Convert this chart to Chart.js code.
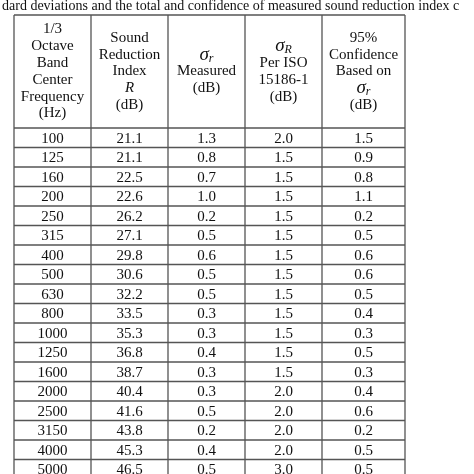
<!DOCTYPE html>
<html>
<head>
<meta charset="utf-8">
<script src="https://cdn.jsdelivr.net/npm/chart.js@4"></script>
<style>body{margin:0;background:#fff;}canvas{display:block;}</style>
</head>
<body>
<canvas id="c" width="474" height="474"></canvas>
<script>
// --- table data ---
const freqs = ["100","125","160","200","250","315","400","500","630","800","1000","1250","1600","2000","2500","3150","4000","5000"];
const rIndex = ["21.1","21.1","22.5","22.6","26.2","27.1","29.8","30.6","32.2","33.5","35.3","36.8","38.7","40.4","41.6","43.8","45.3","46.5"];
const sigmaMeas = ["1.3","0.8","0.7","1.0","0.2","0.5","0.6","0.5","0.5","0.3","0.3","0.4","0.3","0.3","0.5","0.2","0.4","0.5"];
const sigmaIso = ["2.0","1.5","1.5","1.5","1.5","1.5","1.5","1.5","1.5","1.5","1.5","1.5","1.5","2.0","2.0","2.0","2.0","3.0"];
const conf95 = ["1.5","0.9","0.8","1.1","0.2","0.5","0.6","0.6","0.5","0.4","0.3","0.5","0.3","0.4","0.6","0.2","0.5","0.5"];
const headers = [
    ["1/3","Octave","Band","Center","Frequency","(Hz)"],
    ["Sound","Reduction","Index","*R","(dB)"],
    ["σr","Measured","(dB)"],
    ["σR","Per ISO","15186-1","(dB)"],
    ["95%","Confidence","Based on","σr","(dB)"]
];
const title = "dard deviations and the total and confidence of measured sound reduction index c";

// --- layout ---
const colEdges = [14, 91, 168, 245, 322, 405];
const tableTop = 15, headBottom = 128, rowH = 19.5;
const FONT = "'Liberation Serif', 'DejaVu Serif', serif";

const tablePlugin = {
    id: 'table',
    afterDraw: (chart) => {
        const ctx = chart.ctx, xs = chart.scales.x, ys = chart.scales.y;
        const X = v => xs.getPixelForValue(v), Y = v => ys.getPixelForValue(v);
        const cols = [freqs, rIndex, sigmaMeas, sigmaIso, conf95];
        const nRows = freqs.length;
        const bottom = headBottom + rowH * nRows;
        ctx.save();
        ctx.fillStyle = "#fff";
        ctx.fillRect(0, 0, chart.width, chart.height);
        ctx.fillStyle = "#111";
        ctx.textBaseline = "middle";
        ctx.textAlign = "left";
        ctx.font = "14px " + FONT;
        ctx.fillText(title, X(2), Y(6));

        ctx.strokeStyle = "#555";
        ctx.lineWidth = 1.3;
        ctx.beginPath();
        colEdges.forEach(e => { ctx.moveTo(X(e), Y(tableTop)); ctx.lineTo(X(e), Y(bottom)); });
        ctx.moveTo(X(colEdges[0]), Y(tableTop)); ctx.lineTo(X(colEdges[5]), Y(tableTop));
        for (let i = 0; i <= nRows; i++) {
            const y = headBottom + i * rowH;
            ctx.moveTo(X(colEdges[0]), Y(y)); ctx.lineTo(X(colEdges[5]), Y(y));
        }
        ctx.stroke();

        ctx.textAlign = "center";
        // header
        headers.forEach((lines, c) => {
            const cx = (colEdges[c] + colEdges[c + 1]) / 2;
            const mid = (tableTop + headBottom) / 2;
            lines.forEach((t, i) => {
                const y = mid + (i - (lines.length - 1) / 2) * 16.8;
                if (t[0] === "σ") {
                    ctx.font = "italic 19px " + FONT;
                    const w1 = ctx.measureText("σ").width;
                    ctx.font = "italic 12px " + FONT;
                    const w2 = ctx.measureText(t[1]).width;
                    const x0 = X(cx) - (w1 + w2) / 2;
                    ctx.textAlign = "left";
                    ctx.font = "italic 19px " + FONT;
                    ctx.fillText("σ", x0, Y(y));
                    ctx.font = "italic 12px " + FONT;
                    ctx.fillText(t[1], x0 + w1, Y(y) + 4);
                    ctx.textAlign = "center";
                } else if (t[0] === "*") {
                    ctx.font = "italic 15px " + FONT;
                    ctx.fillText(t.slice(1), X(cx), Y(y));
                } else {
                    ctx.font = "15px " + FONT;
                    ctx.fillText(t, X(cx), Y(y));
                }
            });
        });
        // body
        ctx.font = "15px " + FONT;
        cols.forEach((col, c) => {
            const cx = (colEdges[c] + colEdges[c + 1]) / 2;
            col.forEach((v, r) => ctx.fillText(v, X(cx), Y(headBottom + (r + 0.5) * rowH + 1)));
        });
        ctx.restore();
    }
};

new Chart(document.getElementById("c"), {
    type: 'scatter',
    data: { datasets: [{ data: [] }] },
    options: {
        responsive: false,
        animation: false,
        layout: { padding: 0 },
        plugins: { legend: { display: false }, tooltip: { enabled: false } },
        scales: {
            x: { type: 'linear', min: 0, max: 474, display: false },
            y: { type: 'linear', min: 0, max: 474, reverse: true, display: false }
        }
    },
    plugins: [tablePlugin]
});
</script>
</body>
</html>
